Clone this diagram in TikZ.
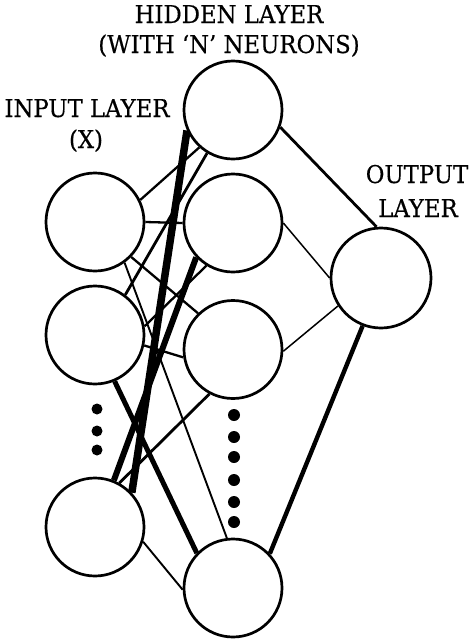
\documentclass[tikz,border=0pt]{standalone}
\usepackage{fontspec}
\setmainfont{DejaVu Serif}[FakeStretch=0.93,FakeBold=0.5]
\pgfdeclarelayer{bg}
\pgfsetlayers{bg,main}
\begin{document}
\begin{tikzpicture}[x=1pt,y=-1pt,
  neuron/.style={circle,draw,line width=2.7pt,minimum size=98pt,inner sep=0pt,fill=white},
  lbl/.style={font=\fontsize{24.5}{30}\selectfont,anchor=base,inner sep=0pt},
  dotmark/.style={fill=black},
  wa/.style={line width=1.5pt},
  wb/.style={line width=1.9pt},
  wc/.style={line width=2.3pt},
  wd/.style={line width=2.8pt},
  we/.style={line width=4.4pt},
  wf/.style={line width=5pt},
  wg/.style={line width=6pt},
  wh/.style={line width=7.5pt}]
\useasboundingbox (0,0) rectangle (474,643);
% neurons
\node[neuron] (I1) at (95,222) {};
\node[neuron] (I2) at (95,335) {};
\node[neuron] (I4) at (95,527) {};
\node[neuron] (H1) at (233,110) {};
\node[neuron] (H2) at (233,223) {};
\node[neuron] (H3) at (233,349.5) {};
\node[neuron] (H4) at (233,588) {};
\node[neuron,minimum size=100pt] (O) at (381,278) {};
% connections
\begin{pgfonlayer}{bg}
\draw[wc] (I1.26) -- (H1.228);
\draw[wc] (I1.0) -- (H2.180);
\draw[wc] (I1.316) -- (H3.134);
\draw[wb] (I1.306) -- (H4.97);
\draw[wd] (I2.53) -- (H1.239);
\draw[wc] (I2.10) -- (H2.238);
\draw[wc] (I2.348) -- (H3.189);
\draw[wf] (I2.293) -- (H4.136);
\draw[wh] (I4.43) -- (H1.204);
\draw[wg] (I4.68) -- (H2.223);
\draw[wd] (I4.61) -- (H3.242);
\draw[wb] (I4.343) -- (H4.182);
\draw[wd] (H1.340) -- (O.95);
\draw[wa] (H2.0) -- (O.180);
\draw[wa] (H3.358) -- (O.213);
\draw[we] (H4.43) -- (O.249);
\end{pgfonlayer}
% ellipsis dots
\foreach \yy in {409,431,450} \fill[dotmark] (97,\yy) circle (5.5pt);
\foreach \yy in {415,437,457,480,502,522} \fill[dotmark] (234,\yy) circle (6pt);
% labels
\node[lbl] (hid1) at (229,23) {HIDDEN LAYER};
\node[lbl] (hid2) at (229,53) {(WITH ‘N’ NEURONS)};
\node[lbl] (in1) at (87,117) {INPUT LAYER};
\node[lbl] (in2) at (86,148) {(X)};
\node[lbl] (out1) at (417,183) {OUTPUT};
\node[lbl] (out2) at (418,217) {LAYER};
\end{tikzpicture}
\end{document}
